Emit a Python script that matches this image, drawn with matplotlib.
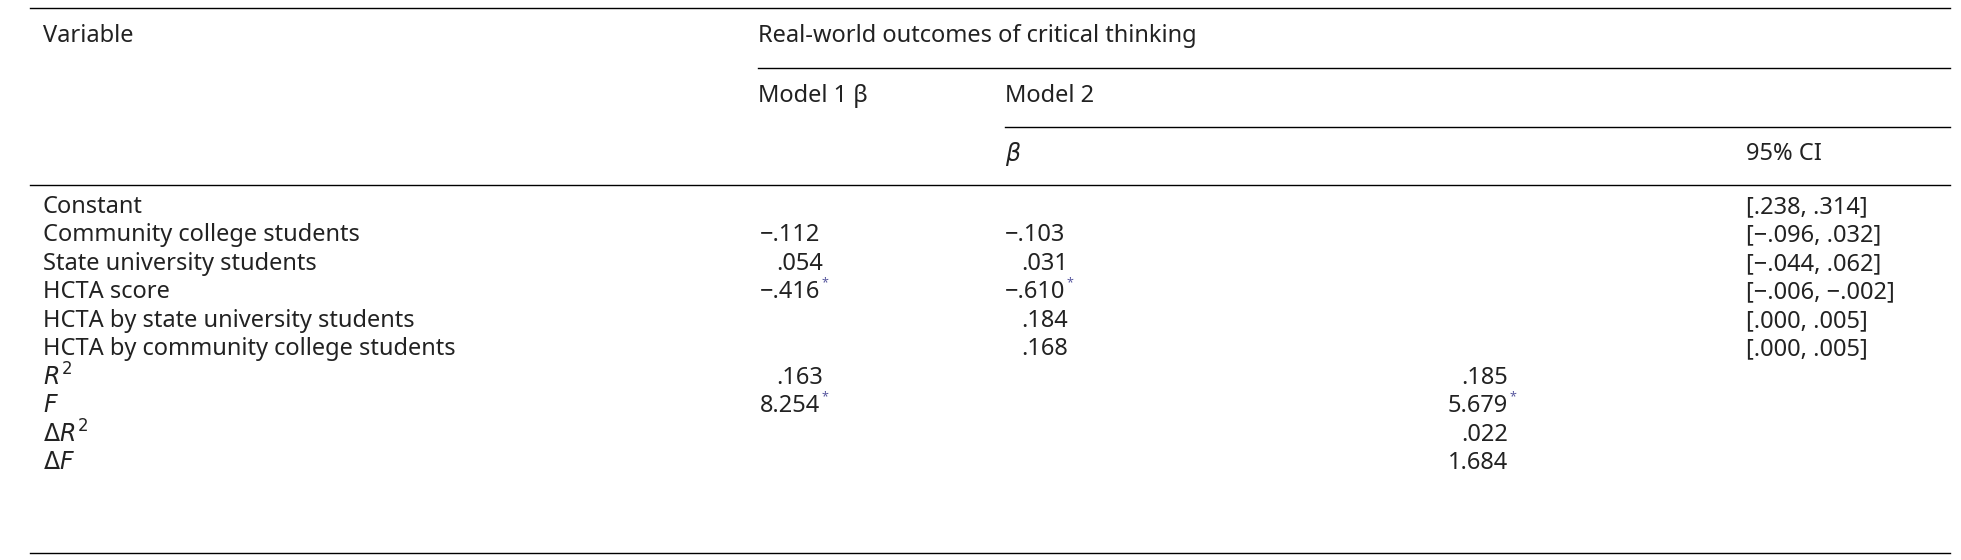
import matplotlib.pyplot as plt

plt.rcParams['font.family'] = ['Noto Sans', 'DejaVu Sans']
plt.rcParams['mathtext.fontset'] = 'dejavusans'

W, H = 1961, 560

variables = ["Constant", "Community college students", "State university students",
             "HCTA score", "HCTA by state university students",
             "HCTA by community college students", "$R^2$", "$F$", r"$\Delta R^2$", r"$\Delta F$"]
model1 = ["", "\u2212.112", ".054", "\u2212.416*", "", "", ".163", "8.254*", "", ""]
model2_beta = ["", "\u2212.103", ".031", "\u2212.610*", ".184", ".168", "", "", "", ""]
model2_fit = ["", "", "", "", "", "", ".185", "5.679*", ".022", "1.684"]
ci = ["[.238, .314]", "[\u2212.096, .032]", "[\u2212.044, .062]", "[\u2212.006, \u2212.002]",
      "[.000, .005]", "[.000, .005]", "", "", "", ""]
row_y = [207, 235, 264, 292, 321, 349, 378, 406, 435, 463]

fig = plt.figure(figsize=(W / 100, H / 100), dpi=100)
ax = fig.add_axes([0, 0, 1, 1])
ax.set_xlim(0, W)
ax.set_ylim(H, 0)
ax.axis("off")

FS = 17
col = "#222222"
star_col = "#5a5aa0"


def put(x, y, s, ha="left"):
    # superscript asterisks drawn small
    star = s.endswith("*")
    s = s.rstrip("*")
    t = ax.text(x, y, s, ha=ha, va="center", fontsize=FS, color=col)
    if star:
        fig.canvas.draw()
        bb = t.get_window_extent()
        ax.text(x + bb.width + 1, y - 9, "*", fontsize=9, color=star_col,
                ha="left", va="center")


def num(x, y, s):
    if not s:
        return
    if not s.startswith("\u2212") and not s[0].isdigit():
        x += 16
    put(x, y, s)


# rules
for y, x0, x1 in [(8, 30, 1950), (68, 758, 1950), (127, 1005, 1950), (185, 30, 1950), (553, 30, 1950)]:
    ax.plot([x0, x1], [y, y], color="black", lw=1.0)

put(43, 36, "Variable")
put(758, 36, "Real-world outcomes of critical thinking")
put(758, 96, "Model 1 \u03b2")
put(1005, 96, "Model 2")
ax.text(1005, 154, r"$\beta$", fontsize=FS, va="center", color=col)
put(1746, 154, "95% CI")

for i, y in enumerate(row_y):
    put(43, y, variables[i])
    num(760, y, model1[i])
    num(1005, y, model2_beta[i])
    if model2_fit[i]:
        ax.text(1508, y, model2_fit[i].rstrip("*"), ha="right", va="center", fontsize=FS, color=col)
        if model2_fit[i].endswith("*"):
            ax.text(1509, y - 9, "*", fontsize=9, color=star_col, va="center")
    if ci[i]:
        put(1746, y, ci[i])

fig.savefig("out.png", dpi=100)
